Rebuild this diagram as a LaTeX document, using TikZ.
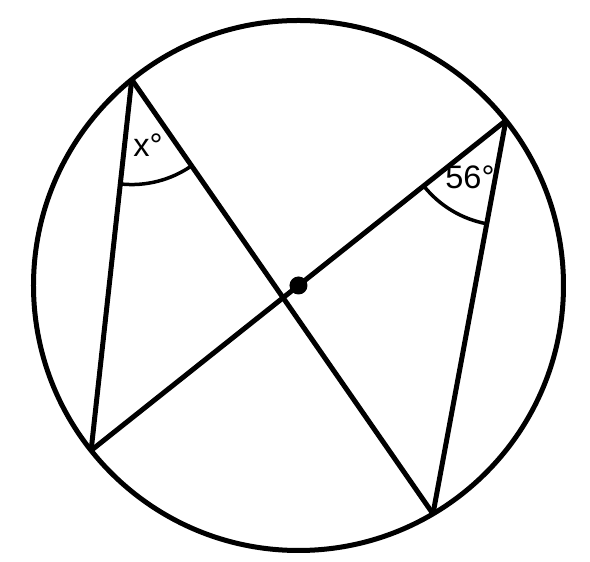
\documentclass[tikz,border=0pt]{standalone}
\usepackage{fontspec}
\setmainfont{Liberation Sans}
\usetikzlibrary{angles}
\begin{document}
\begin{tikzpicture}[line width=0.1cm,
  anglearc/.style={draw,line width=0.07cm,angle radius=2.1cm},
  lbl/.style={font=\fontsize{18.5}{22}\selectfont}]
\useasboundingbox(-5.97,-5.53) rectangle (5.83,5.71);
\coordinate(O) at (0,0);
\coordinate(A) at (129:5.3);
\coordinate(B) at (218.5:5.3);
\coordinate(C) at (300.5:5.3);
\coordinate(D) at (38.5:5.3);
\draw(O) circle (5.3);
\draw(A)--(B);
\draw(A)--(C);
\draw(B)--(D);
\draw(D)--(C);
\fill(O) circle (0.18);
\pic[anglearc]{angle=B--A--C};
\pic[anglearc]{angle=B--D--C};
\node[lbl](x) at (-3.01,2.81){x\textdegree};
\node[lbl](y) at (3.43,2.17){56\textdegree};
\end{tikzpicture}
\end{document}
